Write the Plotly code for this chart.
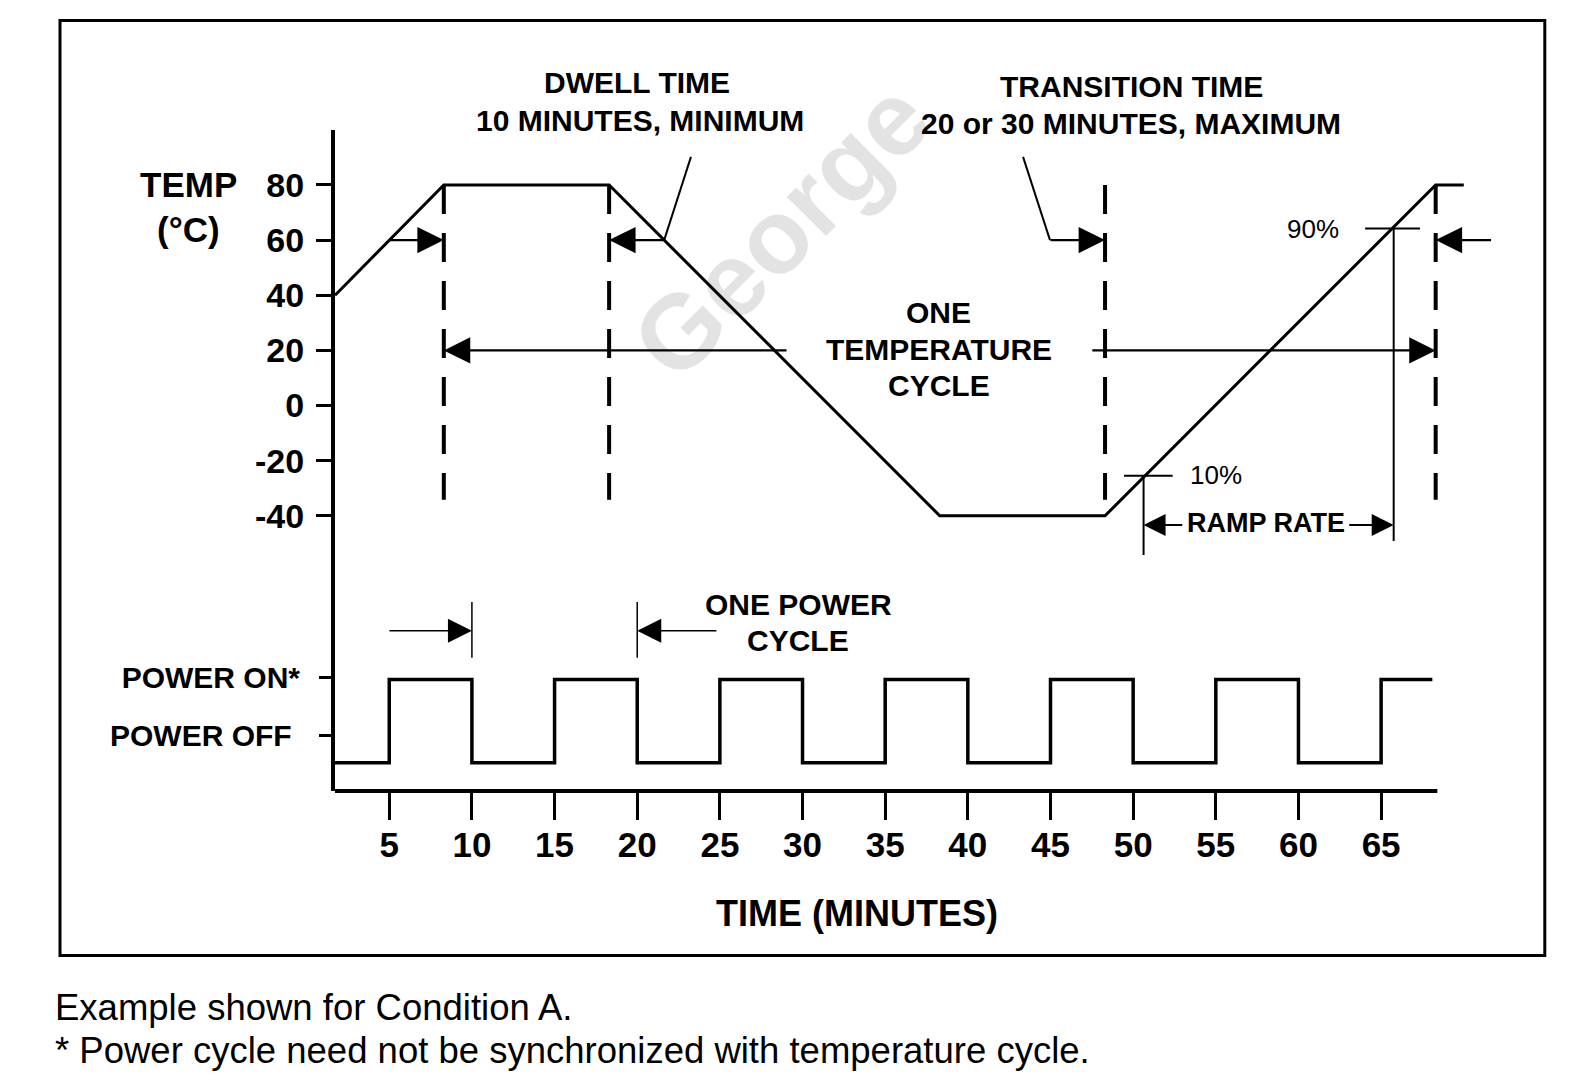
import plotly.graph_objects as go

# ---------------- data ----------------
temp_time = [1.72, 8.3, 18.3, 38.3, 48.3, 68.3, 70.0]
temp_value = [40, 80, 80, -40, -40, 80, 80]

power_time = [1.72, 5, 10, 15, 20, 25, 30, 35, 40, 45, 50, 55, 60, 65, 68.1]
power_level = [0, 1, 0, 1, 0, 1, 0, 1, 0, 1, 0, 1, 0, 1, 1]

boundary_time = [8.3, 18.3, 48.3, 68.3]
boundary_temp = [80, -34.2]

temp_tick_vals = [80, 60, 40, 20, 0, -20, -40]
time_tick_vals = [5, 10, 15, 20, 25, 30, 35, 40, 45, 50, 55, 60, 65]
power_tick_vals = [1.03, 0.33]
power_tick_text = ["POWER ON*", "POWER OFF\u00a0"]

ten_pct_seg_time = [49.45, 52.39]
ten_pct_temp = -25.5
ten_pct_drop_time = 50.63
ten_pct_drop_temp = [-25.5, -54.2]

ninety_pct_seg_time = [64.03, 67.35]
ninety_pct_temp = 64.2
ninety_pct_drop_time = 65.76
ninety_pct_drop_temp = [64.2, -49.1]

dwell_leader_time = [21.63, 23.25]
dwell_leader_temp = [60, 90.2]
transition_leader_time = [43.34, 44.97]
transition_leader_temp = [90.2, 60]

power_cycle_marks = [10, 20]
power_cycle_mark_level = [1.263, 1.932]
power_cycle_arrow_level = 1.587

# (head_time, head_temp, tail_time, tail_temp)
temp_arrows = [
    (8.3, 60, 5.01, 60),
    (18.3, 60, 21.63, 60),
    (48.3, 60, 44.97, 60),
    (68.3, 60, 71.68, 60),
    (8.3, 20, 29.06, 20),
    (68.3, 20, 47.5, 20),
]
ramp_arrows = [
    (50.63, -43.3, 53.0, -43.3),
    (65.76, -43.3, 63.04, -43.3),
]
power_arrows = [
    (10, 4.98),
    (20, 24.82),
]

# ---------------- layout geometry (pixels) ----------------
W, H = 1586, 1088
L, R, T, B = 335, 1497, 130, 791
x_range = [1.718, 72.01]
y_range = [-139.8, 99.93]
y2_range = [-0.340, 7.605]
x_axis_end = 68.4


def px_x(p):
    return (p - L) / (R - L)


def px_y(p):
    return (B - p) / (B - T)


FONT = "Liberation Sans, Arial, Helvetica, sans-serif"

fig = go.Figure()

# temperature profile
fig.add_trace(go.Scatter(x=temp_time, y=temp_value, mode="lines",
                         line=dict(color="black", width=3), hoverinfo="skip"))

# dashed boundaries
for t in boundary_time:
    fig.add_trace(go.Scatter(x=[t, t], y=boundary_temp, mode="lines",
                             line=dict(color="black", width=4, dash="29px,19px"),
                             hoverinfo="skip"))

# thin leader lines / percent markers
thin = dict(color="black", width=2)
fig.add_trace(go.Scatter(x=dwell_leader_time, y=dwell_leader_temp, mode="lines", line=thin))
fig.add_trace(go.Scatter(x=transition_leader_time, y=transition_leader_temp, mode="lines", line=thin))
fig.add_trace(go.Scatter(x=ten_pct_seg_time, y=[ten_pct_temp] * 2, mode="lines", line=thin))
fig.add_trace(go.Scatter(x=[ten_pct_drop_time] * 2, y=ten_pct_drop_temp, mode="lines", line=thin))
fig.add_trace(go.Scatter(x=ninety_pct_seg_time, y=[ninety_pct_temp] * 2, mode="lines", line=thin))
fig.add_trace(go.Scatter(x=[ninety_pct_drop_time] * 2, y=ninety_pct_drop_temp, mode="lines", line=thin))

# power waveform
fig.add_trace(go.Scatter(x=power_time, y=power_level, mode="lines", yaxis="y2",
                         line=dict(color="black", width=3.5, shape="hv"), hoverinfo="skip"))
for t in power_cycle_marks:
    fig.add_trace(go.Scatter(x=[t, t], y=power_cycle_mark_level, mode="lines", yaxis="y2",
                             line=dict(color="black", width=1.5)))

annotations = []


def arrow(hx, hy, tx, ty, yref="y", width=2, size=2.4):
    annotations.append(dict(
        x=hx, y=hy, ax=tx, ay=ty, xref="x", yref=yref, axref="x", ayref=yref,
        text="", showarrow=True, arrowhead=2, arrowsize=size, arrowwidth=width,
        arrowcolor="black", standoff=0, startstandoff=0, borderpad=0,
        font=dict(size=1)))


for hx, hy, tx, ty in temp_arrows:
    arrow(hx, hy, tx, ty, width=2.3, size=2.3)
for hx, hy, tx, ty in ramp_arrows:
    arrow(hx, hy, tx, ty, width=2, size=2.2)
for hx, tx in power_arrows:
    arrow(hx, power_cycle_arrow_level, tx, power_cycle_arrow_level, yref="y2", width=1.5, size=3.2)


def label(text, x, y, size=30, bold=True, yref="y", xref="x", xanchor="center", color="black",
          angle=0):
    annotations.append(dict(
        x=x, y=y, xref=xref, yref=yref, text=text, showarrow=False,
        xanchor=xanchor, yanchor="middle", textangle=angle,
        font=dict(family=FONT, size=size, color=color, weight="bold" if bold else "normal")))


def plabel(text, px, py, **kw):
    label(text, px_x(px), px_y(py), xref="paper", yref="paper", **kw)


plabel("DWELL TIME", 636.7, 83)
plabel("10 MINUTES, MINIMUM", 640.3, 120.4)
plabel("TRANSITION TIME", 1131.4, 86)
plabel("20 or 30 MINUTES, MAXIMUM", 1130.9, 123.4)
plabel("TEMP", 188.5, 184.5, size=35)
plabel("(°C)", 188.0, 229.6, size=35)
plabel("TIME (MINUTES)", 856.8, 913.4, size=36)
plabel("Example shown for Condition A.", 52.6, 1007.5, size=36.5, bold=False, xanchor="left")
plabel("* Power cycle need not be synchronized with temperature cycle.", 52.6, 1050,
       size=36.5, bold=False, xanchor="left")

label("ONE", 38.24, 33.7)
label("TEMPERATURE", 38.24, 20.5)
label("CYCLE", 38.24, 7.3)
label("90%", 60.9, 64.2, size=26, bold=False)
label("10%", 55.03, -25.3, size=26, bold=False)
label("RAMP RATE", 58.04, -42.6, size=27)
label("ONE POWER", 29.73, 1.907, yref="y2")
label("CYCLE", 29.73, 1.471, yref="y2")
label("George", 28.7, 63.7, size=105, color="rgba(0,0,0,0.11)", angle=-45)

shapes = [
    # outer frame
    dict(type="rect", xref="paper", yref="paper", x0=px_x(60), x1=px_x(1544.8),
         y0=px_y(955.6), y1=px_y(20.4), line=dict(color="black", width=3)),
    # time axis baseline
    dict(type="line", xref="x", yref="paper", x0=x_range[0], x1=x_axis_end, y0=0, y1=0,
         line=dict(color="black", width=4)),
]

fig.update_layout(
    width=W, height=H,
    margin=dict(l=L, r=W - R, t=T, b=H - B, pad=0),
    paper_bgcolor="white", plot_bgcolor="white",
    showlegend=False,
    font=dict(family=FONT, color="black"),
    xaxis=dict(range=x_range, showgrid=False, zeroline=False, showline=False,
               tickmode="array", tickvals=time_tick_vals,
               ticktext=[str(v) for v in time_tick_vals],
               ticks="outside", ticklen=28, tickwidth=3, tickcolor="black",
               ticklabelstandoff=-5,
               tickfont=dict(family=FONT, size=35, weight="bold", color="black"),
               fixedrange=True),
    yaxis=dict(range=y_range, showgrid=False, zeroline=False, showline=True,
               linecolor="black", linewidth=4, mirror=False,
               tickmode="array", tickvals=temp_tick_vals,
               ticktext=[str(v) for v in temp_tick_vals],
               ticks="outside", ticklen=15, tickwidth=3, tickcolor="black",
               ticklabelstandoff=5,
               tickfont=dict(family=FONT, size=34, weight="bold", color="black"),
               fixedrange=True),
    yaxis2=dict(range=y2_range, overlaying="y", side="left", showgrid=False,
                zeroline=False, showline=False,
                tickmode="array", tickvals=power_tick_vals, ticktext=power_tick_text,
                ticks="outside", ticklen=15, tickwidth=3, tickcolor="black",
                ticklabelstandoff=13,
                tickfont=dict(family=FONT, size=30, weight="bold", color="black"),
                fixedrange=True),
    annotations=annotations,
    shapes=shapes,
)

fig.write_html("out.html")
